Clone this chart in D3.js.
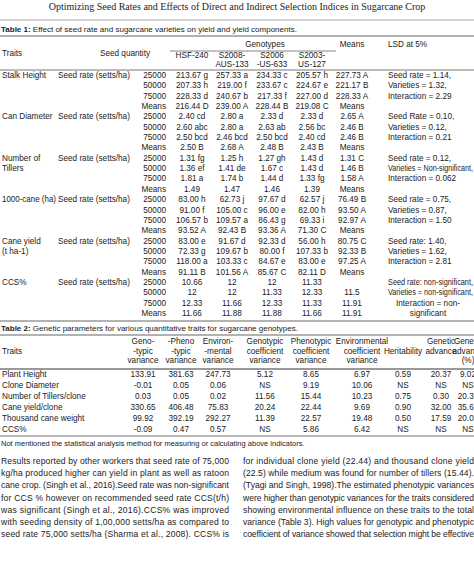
<!DOCTYPE html>
<html><head><meta charset="utf-8">
<script src="https://cdnjs.cloudflare.com/ajax/libs/d3/7.8.5/d3.min.js"></script>
<style>body{margin:0;background:#fff}svg text{font-family:"Liberation Sans",Arial,sans-serif;fill:#222}</style>
</head><body><svg id="c" width="474" height="565"></svg>
<script>
const genotypes = ["HSF-240", ["S2008-", "AUS-133"], ["S2006", "-US-633"], ["S2003-", "US-127"]];
const traits1 = [
  {name: ["Stalk Height"], lsd: ["Seed rate = 1.14,", "Varieties = 1.32,", "Interaction = 2.29"],
   rows: [["25000","213.67 g","257.33 a","234.33 c","205.57 h","227.73 A"],
          ["50000","207.33 h","219.00 f","233.67 c","224.67 e","221.17 B"],
          ["75000","228.33 d","240.67 b","217.33 f","227.00 d","228.33 A"],
          ["Means","216.44 D","239.00 A","228.44 B","219.08 C","Means"]]},
  {name: ["Can Diameter"], lsd: ["Seed Rate = 0.10,", "Varieties = 0.12,", "Interaction = 0.21"],
   rows: [["25000","2.40 cd","2.80 a","2.33 d","2.33 d","2.65 A"],
          ["50000","2.60 abc","2.80 a","2.63 ab","2.56 bc","2.46 B"],
          ["75000","2.50 bcd","2.46 bcd","2.50 bcd","2.40 cd","2.46 B"],
          ["Means","2.50 B","2.68 A","2.48 B","2.43 B","Means"]]},
  {name: ["Number of", " Tillers"], lsd: ["Seed rate = 0.12,", "Varieties = Non-significant,", "Interaction = 0.062"],
   rows: [["25000","1.31 fg","1.25 h","1.27 gh","1.43 d","1.31 C"],
          ["50000","1.36 ef","1.41 de","1.67 c","1.43 d","1.46 B"],
          ["75000","1.81 a","1.74 b","1.44 d","1.33 fg","1.58 A"],
          ["Means","1.49","1.47","1.46","1.39","Means"]]},
  {name: ["1000-cane (ha)"], lsd: ["Seed rate =  0.75,", "Varieties = 0.87,", "Interaction = 1.50"],
   rows: [["25000","83.00 h","62.73 j","97.67 d","62.57 j","76.49 B"],
          ["50000","91.00 f","105.00 c","96.00 e","82.00 h","93.50 A"],
          ["75000","106.57 b","109.57 a","86.43 g","69.33 i","92.97 A"],
          ["Means","93.52 A","92.43 B","93.36 A","71.30 C","Means"]]},
  {name: ["Cane yield", "(t ha-1)"], lsd: ["Seed rate: 1.40,", "Varieties = 1.62,", "Interaction = 2.81"],
   rows: [["25000","83.00 e","91.67 d","92.33 d","56.00 h","80.75 C"],
          ["50000","72.33 g","109.67 b","80.00 f","107.33 b","92.33 B"],
          ["75000","118.00 a","103.33 c","84.67 e","83.00 e","97.25 A"],
          ["Means","91.11 B","101.56 A","85.67 C","82.11 D","Means"]]},
  {name: ["CCS%"], lsd: ["Seed rate: non-significant,", "Varieties = non-significant,", " Interaction = non-", "significant"],
   rows: [["25000","10.66","12","12","11.33",""],
          ["50000","12","12","11.33","12.33","11.5"],
          ["75000","12.33","11.66","12.33","11.33","11.91"],
          ["Means","11.66","11.88","11.88","11.66","11.91"]]}
];
const head2 = [["Geno-","-typic","variance"],["-Pheno","-typic","variance"],["Environ-","-mental","variance"],
  ["Genotypic","coefficient","variance"],["Phenotypic","coefficient","variance"],["Environmental","coefficient","variance"],
  ["","Heritability",""],["Genetic","advance",""],["Genetic","advance","(%)"]];
const traits2 = ["Plant Height","Clone Diameter","Number of Tillers/clone","Cane yield/clone","Thousand cane weight","CCS%"];
const values2 = [
  ["133.91","381.63","247.73","5.12","8.65","6.97","0.59","20.37","9.02"],
  ["-0.01","0.05","0.06","NS","9.19","10.06","NS","NS","NS"],
  ["0.03","0.05","0.02","11.56","15.44","10.23","0.75","0.30","20.35"],
  ["330.65","406.48","75.83","20.24","22.44","9.69","0.90","32.00","35.61"],
  ["99.92","392.19","292.27","11.39","22.57","19.48","0.50","17.59","20.05"],
  ["-0.09","0.47","0.57","NS","5.86","6.42","NS","NS","NS"]];
const leftText = ["Results reported by other workers that seed rate of 75,000","kg/ha produced higher can yield in plant as well as ratoon",
  "cane crop. (Singh et al., 2016).Seed rate was non-significant","for CCS %  however on recommended seed rate  CCS(t/h)",
  "was significant (Singh et al., 2016).CCS% was improved","with seeding density of 1,00,000 setts/ha as compared to","seed rate 75,000 setts/ha (Sharma et al., 2008). CCS% is"];
const rightText = ["for individual clone yield (22.44) and thousand clone yield","(22.5) while medium was found for number of tillers (15.44).",
  "(Tyagi and Singh, 1998).The estimated phenotypic variances","were higher than genotypic variances for the traits considered",
  "showing environmental influence on these traits to the total","variance (Table 3). High values for genotypic and phenotypic","coefficient of variance showed that selection might be effective"];

const svg = d3.select("#c");
const fs = 8.2;
function txt(x, y, s, anchor = "start", size = fs, maxW = 0) {
  const t = svg.append("text").attr("x", x).attr("y", y).attr("font-size", size).attr("text-anchor", anchor).text(s);
  if (maxW && t.node().getComputedTextLength() > maxW) t.attr("textLength", maxW).attr("lengthAdjust", "spacingAndGlyphs");
  return t;
}
function rule(x1, x2, y, w = 0.8, col = "#555") {
  svg.append("line").attr("x1", x1).attr("x2", x2).attr("y1", y).attr("y2", y).attr("stroke", col).attr("stroke-width", w);
}

svg.append("text").attr("x", 237).attr("y", 10).attr("text-anchor", "middle").attr("font-size", 10)
  .style("font-family", "'Liberation Serif',serif").text("Optimizing Seed Rates and Effects of Direct and Indirect Selection Indices in Sugarcane Crop");
rule(0, 474, 20, 0.7, "#888");

// Table 1
const t1 = svg.append("text").attr("x", 1).attr("y", 32).attr("font-size", 8);
t1.append("tspan").attr("font-weight", "bold").text("Table 1:");
t1.append("tspan").text(" Effect of seed rate and sugarcane varieties on yield and yield components.");
rule(0, 474, 36, 1.6, "#999");

const cx = d3.scalePoint().domain(d3.range(5)).range([192, 352]);
txt(265, 47, "Genotypes", "middle");
rule(170, 336, 51, 0.7);
txt(352, 47, "Means", "middle");
txt(388, 47, "LSD at 5%");
txt(2, 56, "Traits");
txt(125, 56, "Seed quantity", "middle");
genotypes.forEach((g, i) => {
  const lines = Array.isArray(g) ? g : [g];
  lines.forEach((l, j) => txt(cx(i), 58 + j * 9, l, "middle"));
});
rule(0, 474, 70, 0.8);

const y1 = d3.scaleLinear().domain([0, 23]).range([78, 316]);
const blocks = svg.selectAll("g.blk").data(traits1).join("g").attr("class", "blk");
blocks.each(function(t, k) {
  const base = k * 4;
  t.name.forEach((n, j) => txt(2, y1(base + j), n, "start", fs, 54));
  txt(58, y1(base), "Seed rate (setts/ha)", "start", fs, 82);
  t.rows.forEach((r, i) => {
    txt(166, y1(base + i), r[0], "end");
    r.slice(1).forEach((v, c) => txt(cx(c), y1(base + i), v, "middle", fs, 38));
  });
  t.lsd.forEach((l, j) => {
    const centred = k === 5 && j >= 2;
    txt(centred ? 428 : 388, y1(base + j), l, centred ? "middle" : "start", fs, 85);
  });
});
rule(0, 474, 321, 0.9);

// Table 2
const t2 = svg.append("text").attr("x", 1).attr("y", 331).attr("font-size", 8);
t2.append("tspan").attr("font-weight", "bold").text("Table 2:");
t2.append("tspan").text(" Genetic parameters for various quantitative traits for sugarcane genotypes.");
rule(0, 474, 335, 1.6, "#999");
const cx2 = [143, 181, 218, 265, 311, 362, 403, 441, 468];
txt(2, 354, "Traits");
head2.forEach((h, i) => h.forEach((l, j) => txt(cx2[i], 344 + j * 9.5, l, "middle", fs, i >= 7 ? 32 : i === 6 ? 40 : 0)));
rule(0, 474, 369, 1.8, "#999");
const y2 = d3.scaleLinear().domain([0, 5]).range([377, 432]);
traits2.forEach((t, i) => {
  txt(2, y2(i), t, "start", fs, 96);
  values2[i].forEach((v, c) => txt(cx2[c], y2(i), v, "middle"));
});
rule(0, 474, 436, 0.8);
txt(1, 446, "Not mentioned the statistical analysis method for measuring or calculating above indicators.", "start", 7.5);

const yb = d3.scaleLinear().domain([0, 6]).range([464, 537]);
leftText.forEach((l, i) => svg.append("text").attr("x", 1).attr("y", yb(i)).attr("font-size", 8.6)
  .attr("textLength", 228).attr("lengthAdjust", "spacing").text(l));
rightText.forEach((l, i) => svg.append("text").attr("x", 243).attr("y", yb(i)).attr("font-size", 8.6)
  .attr("textLength", 231).attr("lengthAdjust", "spacing").text(l));
</script></body></html>
